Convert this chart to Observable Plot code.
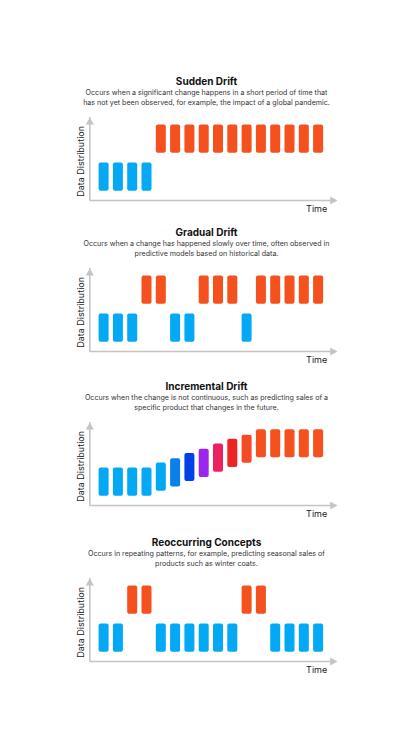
<!DOCTYPE html>
<html lang="en">
<head>
<meta charset="UTF-8">
<meta name="viewport" content="width=device-width, initial-scale=1.0">
<title>Types of Concept Drift</title>
<style>
  body { margin: 0; background: #fff; font-family: Inter, "Noto Sans", sans-serif; }
  #page { position: relative; width: 413px; height: 750px; }
  .panel { position: absolute; left: 0; width: 413px; }
  .panel h2 { margin: 0; font-size: 10px; font-weight: 700; line-height: 14px; text-align: center; color: #111; }
  .panel p { margin: 0; font-size: 7.1px; line-height: 10px; text-align: center; color: #333; }
  .panel svg { display: block; margin-top: 2px; }
</style>
<script src="https://cdn.jsdelivr.net/npm/d3@7"></script>
<script src="https://cdn.jsdelivr.net/npm/@observablehq/plot@0.6"></script>
</head>
<body>
<div id="page"></div>
<script>
// time steps along the x axis
const steps = [0, 1, 2, 3, 4, 5, 6, 7, 8, 9, 10, 11, 12, 13, 14, 15];

// which concept (old A / new B) holds at each step
const suddenConcept    = ["A","A","A","A","B","B","B","B","B","B","B","B","B","B","B","B"];
const gradualConcept   = ["A","A","A","B","B","A","A","B","B","B","A","B","B","B","B","B"];
const recurringConcept = ["A","A","B","B","A","A","A","A","A","A","B","B","A","A","A","A"];

// level (centre of the distribution band) of each concept
const conceptLevel = {A: 23.5, B: 61.6};

// incremental drift moves the level a little at every step
const incrementalLevel = [23.5, 23.5, 23.5, 23.5, 28.5, 32.7, 38.2, 42.3, 47.5, 52.3, 56.5, 62, 62, 62, 62, 62];

const titles = ["Sudden Drift", "Gradual Drift", "Incremental Drift", "Reoccurring Concepts"];
const subtitles = [
  ["Occurs when a significant change happens in a short period of time that",
   "has not yet been observed, for example, the impact of a global pandemic."],
  ["Occurs when a change has happened slowly over time, often observed in",
   "predictive models based on historical data."],
  ["Occurs when the change is not continuous, such as predicting sales of a",
   "specific product that changes in the future."],
  ["Occurs in repeating patterns, for example, predicting seasonal sales of",
   "products such as winter coats."]
];

// styling
const conceptColor = {A: "#03A9F4", B: "#F4511E"};
const incrementalColors = ["#03A9F4", "#03A9F4", "#03A9F4", "#03A9F4", "#03A8F2", "#0A80EA",
  "#0041E8", "#9B27EE", "#EE2160", "#EE2424", "#F44A26",
  "#F4511E", "#F4511E", "#F4511E", "#F4511E", "#F4511E"];
const axisGray = "#c4c4c4";
const panelTops = [73.7, 225.3, 378.7, 535.3];

function drawPanel(levels, fills) {
  const bars = steps.map((s, i) => ({step: s, level: levels[i], fill: fills[i]}));
  return Plot.plot({
    width: 413,
    height: 110,
    marginLeft: 89.3,
    marginRight: 76.3,
    marginTop: 7,
    marginBottom: 20,
    x: {domain: [-1, 16.3], axis: null},
    y: {domain: [0, 83.3], axis: null},
    color: {type: "identity"},
    style: {background: "#fff", fontFamily: "Inter, sans-serif", overflow: "visible"},
    marks: [
      Plot.ruleY([0], {stroke: axisGray, strokeWidth: 1.6}),
      Plot.ruleX([-1], {stroke: axisGray, strokeWidth: 1.6}),
      Plot.dot([0], {frameAnchor: "bottom-right", symbol: "triangle", r: 3, rotate: 90, dx: -4.6, fill: axisGray, stroke: "none"}),
      Plot.dot([0], {frameAnchor: "top-left", symbol: "triangle", r: 3, dy: 4.6, fill: axisGray, stroke: "none"}),
      Plot.rect(bars, {
        x1: d => d.step - 0.35,
        x2: d => d.step + 0.35,
        y1: d => d.level - 14.1,
        y2: d => d.level + 14.1,
        fill: "fill",
        rx: 2
      }),
      Plot.text(["Data Distribution"], {frameAnchor: "left", textAnchor: "middle", lineAnchor: "middle", rotate: -90, dx: -8.6, dy: 2.4, fontSize: 9, fill: "#222"}),
      Plot.text(["Time"], {frameAnchor: "bottom-right", textAnchor: "end", lineAnchor: "middle", dx: -10, dy: 9, fontSize: 9, fill: "#222"})
    ]
  });
}

const panelData = [
  [suddenConcept.map(c => conceptLevel[c]), suddenConcept.map(c => conceptColor[c])],
  [gradualConcept.map(c => conceptLevel[c]), gradualConcept.map(c => conceptColor[c])],
  [incrementalLevel, incrementalColors],
  [recurringConcept.map(c => conceptLevel[c]), recurringConcept.map(c => conceptColor[c])]
];

const page = document.getElementById("page");
panelData.forEach(([levels, fills], i) => {
  const div = document.createElement("div");
  div.className = "panel";
  div.style.top = panelTops[i] + "px";
  const h = document.createElement("h2");
  h.textContent = titles[i];
  div.appendChild(h);
  subtitles[i].forEach(line => {
    const p = document.createElement("p");
    p.textContent = line;
    div.appendChild(p);
  });
  div.appendChild(drawPanel(levels, fills));
  page.appendChild(div);
});
</script>
</body>
</html>
